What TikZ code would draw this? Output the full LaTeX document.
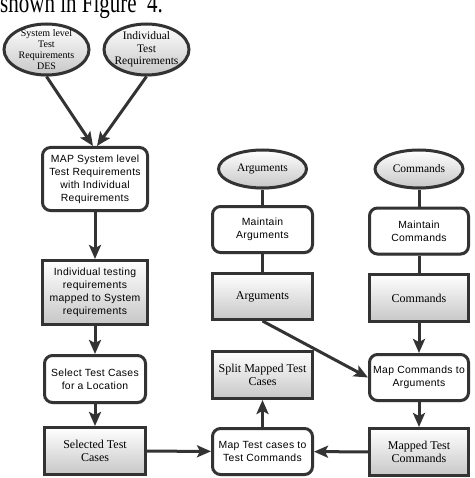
\documentclass[tikz,border=0pt]{standalone}
\usepackage{graphicx}
\usepackage{fontspec}
\setmainfont{Liberation Serif}
\newfontfamily\sansf[LetterSpace=3.0]{Liberation Sans}
\usetikzlibrary{shapes.geometric,arrows.meta,shadows}
\begin{document}
\begin{tikzpicture}[x=1pt,y=-1pt,
  bord/.style={draw=black!80, line width=3pt},
  shad/.style={drop shadow={shadow xshift=0.6pt, shadow yshift=-1.6pt, fill=black, opacity=0.22}},
  ell/.style={ellipse, bord, top color=white, bottom color=black!22, inner sep=0pt, shad},
  etext/.style={align=center, inner sep=0pt, font=\fontsize{11.5}{12.7}\selectfont},
  rbox/.style={rectangle, rounded corners=8pt, bord, fill=white, align=center, inner sep=0pt, shad, font=\sansf\fontsize{10.4}{13}\selectfont},
  sbox/.style={rectangle, bord, top color=white, bottom color=black!22, align=center, inner sep=0pt, shad, font=\fontsize{12}{13.5}\selectfont},
  line/.style={line width=3pt, draw=black!80},
  arr/.style={line, -{Stealth[length=14pt,width=12pt,inset=3pt]}},
]
\useasboundingbox (0,0) rectangle (474,478);

\node[anchor=base west, inner sep=0pt, font=\fontsize{21}{21}\selectfont] (cap) at (0,12.5) {\scalebox{1}[1.35]{shown in Figure\ \ 4.}};

% left column
\node[ell, minimum width=85pt, minimum height=51pt] (e1) at (46.5,49.5) {};
\node[etext, font=\fontsize{10}{10.8}\selectfont] (e1t) at (e1) {System level\\Test\\Requirements\\DES};
\node[ell, minimum width=85pt, minimum height=51pt] (e2) at (146.5,49.5) {};
\node[etext] (e2t) at (e2) {Individual\\Test\\Requirements};

\node[rbox, minimum width=105pt, minimum height=63pt] (b1) at (95,179) {MAP System level\\Test Requirements\\with Individual\\Requirements};
\node[sbox, font=\sansf\fontsize{10.4}{13}\selectfont, minimum width=105pt, minimum height=64pt] (b2) at (95,292.5) {Individual testing\\requirements\\mapped to System\\requirements};
\node[rbox, minimum width=101pt, minimum height=47pt] (b3) at (95,379) {Select Test Cases\\for a Location};
\node[sbox, minimum width=101pt, minimum height=47pt] (b4) at (95,451) {Selected Test\\Cases};

% middle column
\node[ell, minimum width=88pt, minimum height=38pt] (ea) at (262.5,169) {};
\node[etext] (eat) at (ea) {Arguments};
\node[rbox, minimum width=100pt, minimum height=46pt] (ma) at (262.5,229.5) {Maintain\\Arguments};
\node[sbox, minimum width=100pt, minimum height=46pt] (ar) at (262.5,296.5) {Arguments};
\node[sbox, minimum width=100pt, minimum height=47pt] (sp) at (262.5,375) {Split Mapped Test\\Cases};
\node[rbox, minimum width=100pt, minimum height=46pt] (mt) at (262.5,451.5) {Map Test cases to\\Test Commands};

% right column
\node[ell, minimum width=88pt, minimum height=38pt] (ec) at (419,169) {};
\node[etext] (ect) at (ec) {Commands};
\node[rbox, minimum width=99pt, minimum height=46pt] (mc) at (419,231) {Maintain\\Commands};
\node[sbox, minimum width=99pt, minimum height=47pt] (co) at (419,298) {Commands};
\node[rbox, minimum width=99pt, minimum height=46pt] (mca) at (419,377.5) {Map Commands to\\Arguments};
\node[sbox, minimum width=99pt, minimum height=47pt] (mtc) at (419,452) {Mapped Test\\Commands};

% connectors
\draw[arr] (e1.south) -- ([xshift=-2pt]b1.north);
\draw[arr] (e2.south) -- ([xshift=2pt]b1.north);
\draw[arr] (b1) -- (b2);
\draw[arr] (b2) -- (b3);
\draw[arr] (b3) -- (b4);
\draw[arr] (b4) -- (mt);
\draw[arr] (mt) -- (sp);
\draw[arr] (mtc) -- (mt);
\draw[arr] (mca) -- (mtc);
\draw[arr] (co) -- (mca);
\draw[arr] (ar.south) -- (mca.west);
\draw[line] (ea) -- (ma);
\draw[line] (ma) -- (ar);
\draw[line] (ec) -- (mc);
\draw[line] (mc) -- (co);
\end{tikzpicture}
\end{document}
